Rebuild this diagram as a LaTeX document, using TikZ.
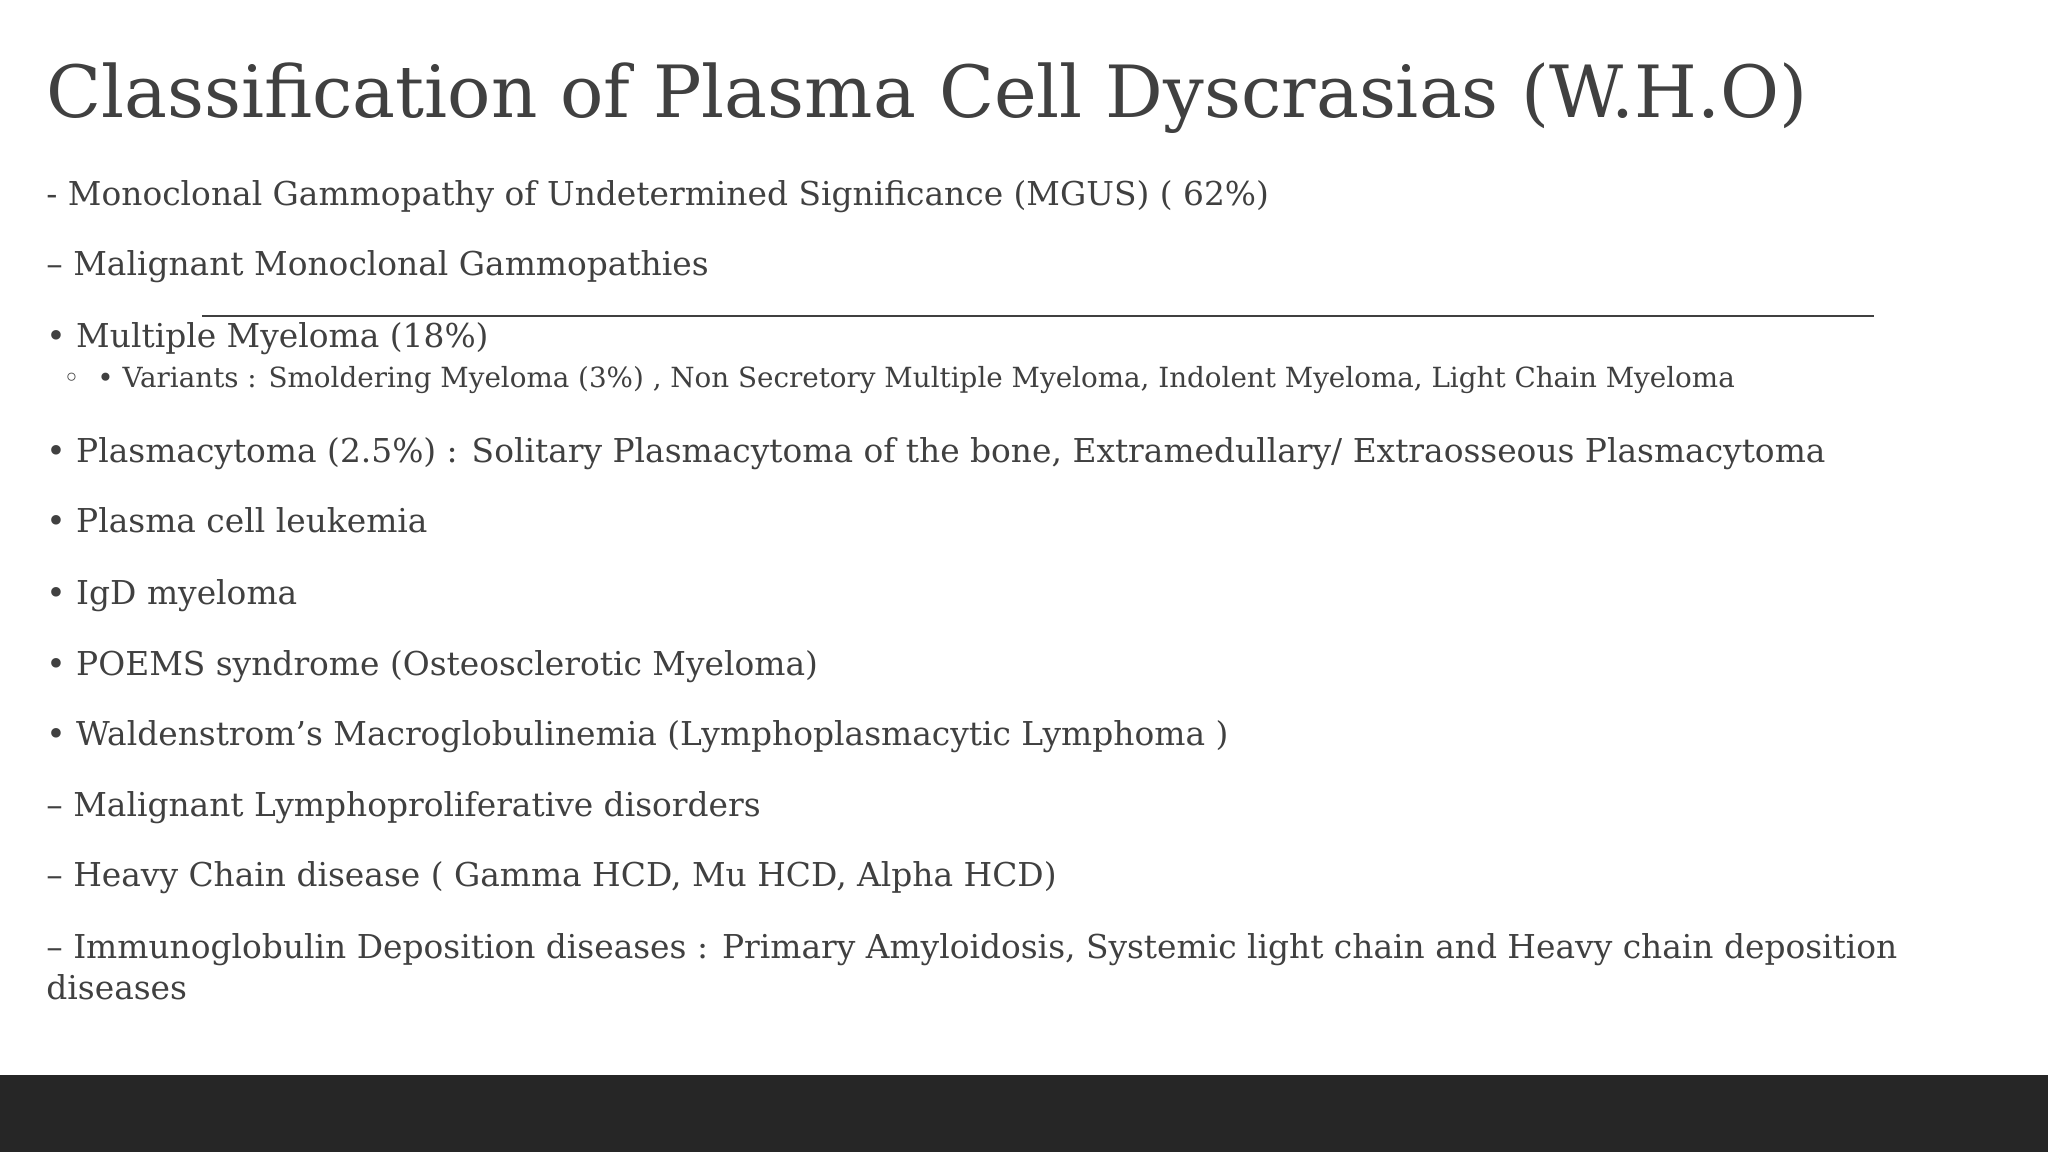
\documentclass[tikz,border=0pt]{standalone}
\usepackage{fontspec}
\setmainfont{DejaVu Serif}
\definecolor{txt}{HTML}{404040}
\definecolor{bar}{HTML}{262626}
\begin{document}
\begin{tikzpicture}[x=0.013061cm,y=-0.013061cm,
  body/.style={anchor=base west,inner sep=0,text=txt,font=\fontsize{9.35pt}{11pt}\selectfont},
  small/.style={anchor=base west,inner sep=0,text=txt,font=\fontsize{7.9pt}{9pt}\selectfont}]
\useasboundingbox (0,0) rectangle (1568,882);
\fill[white] (0,0) rectangle (1568,882);
\fill[bar] (0,823) rectangle (1568,882);
\node[anchor=base west,inner sep=0,text=txt,font=\fontsize{20.5pt}{24pt}\selectfont] (title) at (35,90) {Classification of Plasma Cell Dyscrasias (W.H.O)};
\node[body] (l1) at (35,157) {- Monoclonal Gammopathy of Undetermined Significance (MGUS) ( 62\%)};
\node[body] (l2) at (35,211) {– Malignant Monoclonal Gammopathies};
\coordinate (ha) at (155,242); \coordinate (hb) at (1435,242);
\draw[txt,line width=0.6pt] (ha) -- (hb);
\node[body] (l3) at (35,266) {• Multiple Myeloma (18\%)};
\node[small] (l4) at (48,297) {◦ \ • Variants : Smoldering Myeloma (3\%) , Non Secretory Multiple Myeloma, Indolent Myeloma, Light Chain Myeloma};
\node[body] (l5) at (35,354) {• Plasmacytoma (2.5\%) : Solitary Plasmacytoma of the bone, Extramedullary/ Extraosseous Plasmacytoma};
\node[body] (l6) at (35,408) {• Plasma cell leukemia};
\node[body] (l7) at (35,463) {• IgD myeloma};
\node[body] (l8) at (35,517) {• POEMS syndrome (Osteosclerotic Myeloma)};
\node[body] (l9) at (35,571) {• Waldenstrom’s Macroglobulinemia (Lymphoplasmacytic Lymphoma )};
\node[body] (l10) at (35,625) {– Malignant Lymphoproliferative disorders};
\node[body] (l11) at (35,679) {– Heavy Chain disease ( Gamma HCD, Mu HCD, Alpha HCD)};
\node[body] (l12) at (35,734) {– Immunoglobulin Deposition diseases : Primary Amyloidosis, Systemic light chain and Heavy chain deposition};
\node[body] (l13) at (35,765) {diseases};
\end{tikzpicture}
\end{document}
